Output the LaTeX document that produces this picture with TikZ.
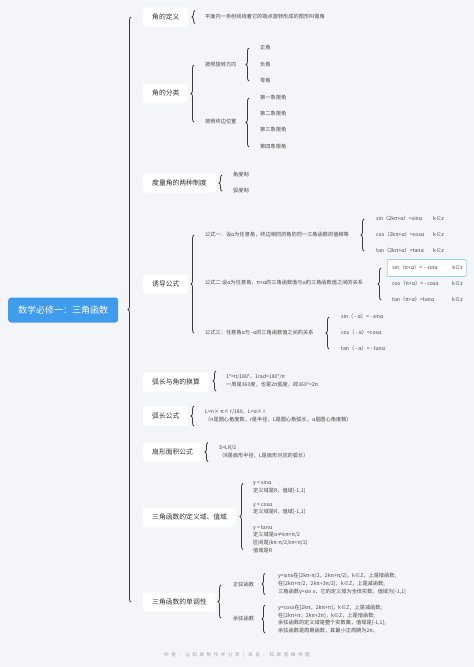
\documentclass[tikz,border=0pt]{standalone}
\usepackage{fontspec}
\setmainfont{Noto Sans CJK SC}
\usetikzlibrary{decorations.pathreplacing,calc}
\definecolor{bgc}{HTML}{F3F5F8}
\definecolor{rootc}{HTML}{3F9BEB}
\definecolor{txtc}{HTML}{333333}
\definecolor{leafc}{HTML}{484848}
\definecolor{brcc}{HTML}{3A3A3A}
\definecolor{selc}{HTML}{9CCEF0}
\definecolor{footc}{HTML}{A0A4A8}
\newcommand{\lf}{\fontsize{5.2}{7.6}\selectfont}
\tikzset{
  root/.style={fill=rootc,text=white,rounded corners=3pt,font=\fontsize{9}{10}\selectfont,
    inner xsep=10pt,minimum height=25pt,anchor=west},
  topic/.style={fill=white,text=txtc,rounded corners=2.5pt,font=\fontsize{6.8}{8}\selectfont,
    inner xsep=9pt,minimum height=19pt,anchor=west},
  leaf/.style={text=leafc,font=\lf,inner sep=0pt,anchor=west,align=left},
  sel/.style={leaf,draw=selc,fill=white,line width=0.6pt,inner xsep=5pt,
    minimum height=17pt,text width=69pt,rounded corners=1pt},   % selected leaf
  brc/.style={draw=brcc,line width=0.8pt,decorate,decoration={brace,amplitude=3pt}},
  foot/.style={text=footc,font=\fontsize{4.6}{5}\selectfont\addfontfeature{LetterSpace=55}},
}

\begin{document}
\begin{tikzpicture}[x=1pt,y=-1pt]
  % background, one px of the sheet = one pt
  \fill[bgc] (0,0) rectangle (474,667);
  \useasboundingbox (0,0) rectangle (474,667);
  % root and main topics
  \node[root] (root) at (8,310) {数学必修一：三角函数};
  \node[topic] (t1) at (143,17) {角的定义};
  \node[topic] (t2) at (143,93) {角的分类};
  \node[topic] (t3) at (143,183) {度量角的两种制度};
  \node[topic] (t4) at (143,284) {诱导公式};
  \node[topic] (t5) at (143,382) {弧长与角的换算};
  \node[topic] (t6) at (143,416) {弧长公式};
  \node[topic] (t7) at (143,452) {扇形面积公式};
  \node[topic] (t8) at (143,517) {三角函数的定义域、值域};
  \node[topic] (t9) at (143,602) {三角函数的单调性};
  \draw[brc] ([xshift=-12pt]t9.west) -- ([xshift=-12pt]t1.west);

  % definition
  \node[leaf] (d1) at (205,17) {平面内一条射线绕着它的端点旋转形成的图形叫做角};
  \draw[brc] ([xshift=-10pt,yshift=-6.5pt]d1.west) -- ([xshift=-10pt,yshift=6.5pt]d1.west);

  % classification
  \node[leaf] (c1) at (205,65) {按照旋转方向};
  \node[leaf] (c2) at (205,122) {按照终边位置};
  \draw[brc] ([xshift=-11pt]c2.west) -- ([xshift=-11pt]c1.west);
  \node[leaf] (c11) at (260,48) {正角};
  \node[leaf] (c12) at (260,65) {负角};
  \node[leaf] (c13) at (260,81) {零角};
  \draw[brc] ([xshift=-11pt]c13.west) -- ([xshift=-11pt]c11.west);
  \node[leaf] (c21) at (260,98) {第一象限角};
  \node[leaf] (c22) at (260,114) {第二象限角};
  \node[leaf] (c23) at (260,130) {第三象限角};
  \node[leaf] (c24) at (260,147) {第四象限角};
  \draw[brc] ([xshift=-11pt]c24.west) -- ([xshift=-11pt]c21.west);

  % two systems
  \node[leaf] (m1) at (233,175) {角度制};
  \node[leaf] (m2) at (233,191) {弧度制};
  \draw[brc] ([xshift=-11pt]m2.west) -- ([xshift=-11pt]m1.west);

  % induction formulas
  \node[leaf] (f1) at (205,235) {公式一：设α为任意角，终边相同的角的同一三角函数的值相等};
  \node[leaf] (f2) at (205,283) {公式二:设α为任意角，π+α的三角函数值与α的三角函数值之间的关系};
  \node[leaf] (f3) at (205,333) {公式三：任意角α与 -α的三角函数值之间的关系};
  \draw[brc] ([xshift=-11pt]f3.west) -- ([xshift=-11pt]f1.west);
  \node[leaf] (f11) at (376,219) {\makebox[57pt][l]{sin（2kπ+α）=sinα}k∈z};
  \node[leaf] (f12) at (376,235) {\makebox[57pt][l]{cos（2kπ+α）=cosα}k∈z};
  \node[leaf] (f13) at (376,251) {\makebox[57pt][l]{tan（2kπ+α）=tanα}k∈z};
  \draw[brc] ([xshift=-12pt]f13.west) -- ([xshift=-12pt]f11.west);
  \node[sel] (f21) at (387,268) {\makebox[60pt][l]{sin（π+α）= - sinα}k∈z};
  \node[leaf] (f22) at (392,284) {\makebox[60pt][l]{cos（π+α）= - cosα}k∈z};
  \node[leaf] (f23) at (392,300) {\makebox[60pt][l]{tan（π+α）=tanα}k∈z};
  \draw[brc] ([xshift=-11pt]f23.west) -- ([xshift=-11pt]f22.west |- f21.west);
  \node[leaf] (f31) at (341,317) {sin（ - α）= - sinα};
  \node[leaf] (f32) at (341,333) {cos（ - α）=cosα};
  \node[leaf] (f33) at (341,349) {tan（ - α）= - tanα};
  \draw[brc] ([xshift=-12pt]f33.west) -- ([xshift=-12pt]f31.west);

  % arc length and area
  \node[leaf] (h1) at (226,381) {1°=π/180°，1rad=180°/π\\一周是360度，也是2π弧度，即360°=2π.};
  \draw[brc] ([xshift=-10pt,yshift=-10pt]h1.west) -- ([xshift=-10pt,yshift=10pt]h1.west);
  \node[leaf] (l1) at (205,416) {L=n× π× r/180，L=α× r\\（n是圆心角度数，r是半径，L是圆心角弧长，α是圆心角度数）};
  \draw[brc] ([xshift=-11pt,yshift=-10pt]l1.west) -- ([xshift=-11pt,yshift=10pt]l1.west);
  \node[leaf] (a1) at (219,452) {S=LR/2\\（R是扇形半径，L是扇形对应的弧长）};
  \draw[brc] ([xshift=-11pt,yshift=-9.5pt]a1.west) -- ([xshift=-11pt,yshift=9.5pt]a1.west);

  % domain and range
  \node[leaf] (g1) at (253,487) {y = sinα\\定义域是R，值域[-1,1]};
  \node[leaf] (g2) at (253,509) {y = cosα\\定义域是R，值域[-1,1]};
  \node[leaf] (g3) at (253,539) {y = tanα\\定义域是α≠kπ+π/2\\区间是(kπ-π/2,kπ+π/2)\\值域是R};
  \draw[brc] ([xshift=-10pt,yshift=3pt]g3.south west) -- ([xshift=-10pt,yshift=-3pt]g1.north west);

  % monotonicity
  \node[leaf] (s1) at (233,585) {正弦函数};
  \node[leaf] (s2) at (233,618) {余弦函数};
  \draw[brc] ([xshift=-12pt]s2.west) -- ([xshift=-12pt]s1.west);
  \node[leaf] (s11) at (278,584) {y=sinx在[2kπ-π/2，2kπ+π/2]，k∈Z，上是增函数;\\在[2kπ+π/2，2kπ+3π/2]，k∈Z，上是减函数;\\三角函数y=sin x，它的定义域为全体实数，值域为[-1,1]};
  \draw[brc] ([xshift=-13pt]s11.south west) -- ([xshift=-13pt]s11.north west);
  \node[leaf] (s21) at (278,619) {y=cosx在[2kπ，2kπ+π]，k∈Z，上是减函数;\\在[2kπ+π，2kπ+2π]，k∈Z，上是增函数;\\余弦函数的定义域是整个实数集，值域是[-1,1];\\余弦函数是周期函数，其最小正周期为2π。};
  \draw[brc] ([xshift=-13pt]s21.south west) -- ([xshift=-13pt]s21.north west);

  % footer
  \node[foot] (ft) at (237,655) {作者：@知犀制作并分享 | 来自：知犀思维导图};
\end{tikzpicture}
\end{document}
